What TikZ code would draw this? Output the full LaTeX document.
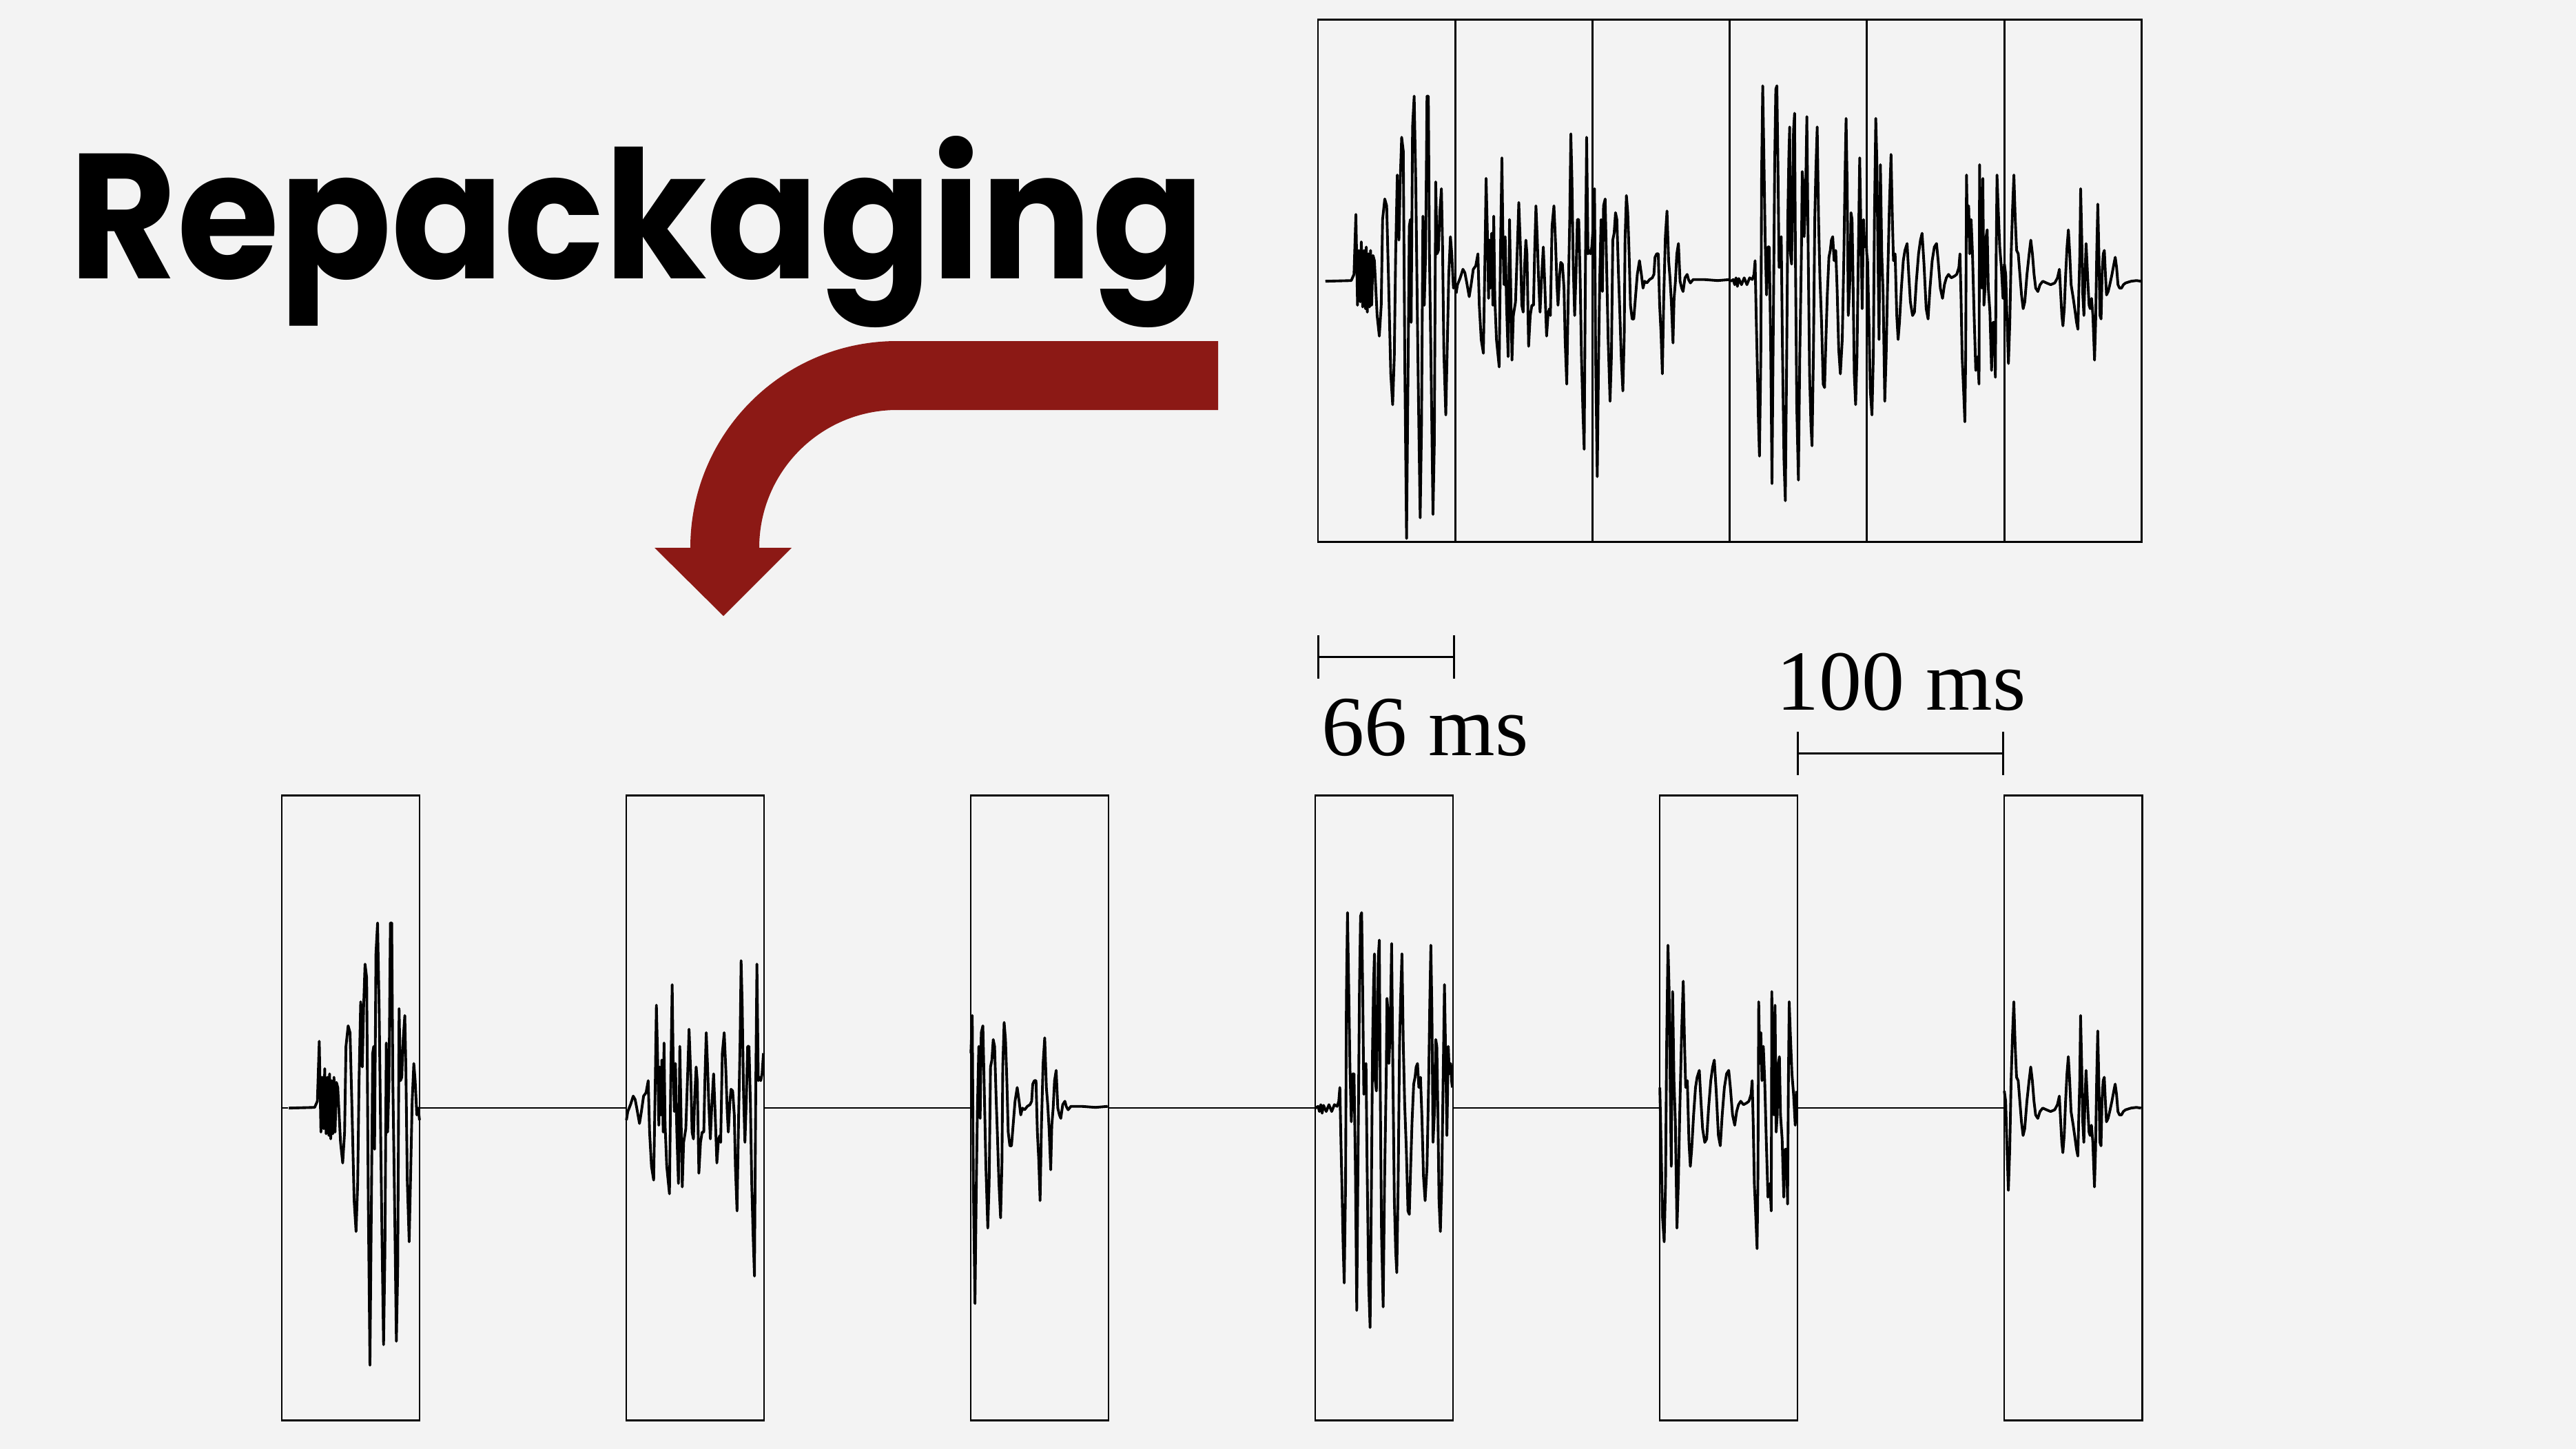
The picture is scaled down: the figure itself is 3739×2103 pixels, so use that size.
\documentclass[tikz,border=0pt]{standalone}
\usepackage{fontspec}
\newfontfamily\titlefont{Poppins}
\newfontfamily\serifnum{Liberation Serif}
\usetikzlibrary{arrows.meta}
\definecolor{bgcol}{RGB}{243,243,243}
\definecolor{arrowred}{RGB}{140,25,21}
% waveform segments, written in a local grid (x: 1/2.529 px, y: 1/2.010 px, zero line at 780)
\newcommand\wavesegA{\draw[wave] (60,780) -- (155,778) -- (165,760) -- (172,585) -- (178,850) -- (183,690) -- (188,840) -- (192,665) -- (197,855) -- (202,690) -- (207,860) -- (210,680) -- (214,870) -- (218,700) -- (222,855) -- (226,690) -- (230,850) -- (235,705) -- (240,720) -- (245,800) -- (250,880) -- (258,940) -- (265,850) -- (270,600) -- (278,540) -- (285,560) -- (292,780) -- (300,1050) -- (307,1140) -- (313,1000) -- (318,700) -- (324,470) -- (330,660) -- (335,480) -- (340,360) -- (346,400) -- (352,1060) -- (358,1530) -- (364,1000) -- (368,620) -- (372,600) -- (375,900) -- (380,330) -- (386,240) -- (392,500) -- (398,900) -- (403,1200) -- (408,1470) -- (413,1200) -- (418,590) -- (423,850) -- (428,700) -- (433,240) -- (438,240) -- (442,700) -- (448,1030) -- (455,1460) -- (460,1250) -- (465,490) -- (470,700) -- (475,690) -- (480,580) -- (486,510) -- (490,670) -- (495,990) -- (502,1170) -- (508,950) -- (513,760) -- (519,650) -- (524,700) -- (530,800) -- (535,780) -- (540,815);}
\newcommand\wavesegB{\draw[wave] (540,815) -- (545,790) -- (555,770) -- (565,745) -- (572,755) -- (578,780) -- (588,825) -- (595,790) -- (603,745) -- (612,735) -- (620,700) -- (625,850) -- (632,950) -- (640,990) -- (646,700) -- (650,480) -- (655,650) -- (659,830) -- (662,660) -- (666,800) -- (670,640) -- (675,850) -- (678,590) -- (682,830) -- (688,950) -- (698,1030) -- (703,680) -- (708,420) -- (712,670) -- (716,790) -- (720,650) -- (725,850) -- (731,1000) -- (736,600) -- (740,780) -- (745,1010) -- (750,880) -- (758,840) -- (764,700) -- (770,550) -- (776,680) -- (781,850) -- (786,870) -- (791,740) -- (796,660) -- (800,700) -- (806,970) -- (812,880) -- (818,850) -- (824,850) -- (828,700) -- (833,560) -- (838,660) -- (842,760) -- (848,870) -- (853,780) -- (860,680) -- (865,780) -- (872,940) -- (878,870) -- (883,860) -- (886,880) -- (892,620) -- (899,560) -- (905,670) -- (910,790) -- (914,850) -- (920,760) -- (924,725) -- (930,730) -- (936,800) -- (940,950) -- (946,1080) -- (952,800) -- (957,600) -- (961,350) -- (965,480) -- (970,740) -- (975,880) -- (980,760) -- (985,600) -- (990,600) -- (995,760) -- (1000,1000) -- (1005,1150) -- (1010,1270) -- (1015,700) -- (1019,360) -- (1024,700) -- (1028,690) -- (1033,700) -- (1038,680) -- (1043,620);}
\newcommand\wavesegC{\draw[wave] (1043,620) -- (1048,510) -- (1052,1000) -- (1058,1350) -- (1063,1000) -- (1067,780) -- (1072,600) -- (1077,810) -- (1081,560) -- (1087,540) -- (1093,760) -- (1098,950) -- (1105,1130) -- (1110,1000) -- (1115,660) -- (1120,640) -- (1125,580) -- (1130,600) -- (1136,760) -- (1140,850) -- (1146,1000) -- (1152,1100) -- (1157,940) -- (1160,660) -- (1165,530) -- (1170,580) -- (1175,700) -- (1180,850) -- (1186,890) -- (1192,890) -- (1198,830) -- (1205,760) -- (1213,720) -- (1220,760) -- (1226,800) -- (1232,780) -- (1240,785) -- (1250,775) -- (1260,770) -- (1266,760) -- (1270,710) -- (1276,700) -- (1282,700) -- (1287,850) -- (1292,930) -- (1297,1050) -- (1302,830) -- (1308,650) -- (1314,575) -- (1320,720) -- (1325,770) -- (1330,840) -- (1336,960) -- (1340,830) -- (1345,780) -- (1350,700) -- (1356,670) -- (1362,780) -- (1368,800) -- (1373,810) -- (1380,770) -- (1388,760) -- (1393,775) -- (1400,785) -- (1410,775) -- (1450,775) -- (1500,778) -- (1545,775);}
\newcommand\wavesegD{\draw[wave] (30,780) -- (40,775) -- (45,790) -- (50,770) -- (55,795) -- (60,772) -- (70,790) -- (80,770) -- (90,790) -- (100,770) -- (110,775) -- (116,760) -- (120,720) -- (124,880) -- (128,1020) -- (132,1180) -- (136,1290) -- (141,1000) -- (144,460) -- (148,210) -- (153,450) -- (157,660) -- (162,820) -- (167,680) -- (172,680) -- (177,950) -- (182,1370) -- (187,900) -- (192,430) -- (196,220) -- (200,210) -- (204,450) -- (208,740) -- (212,660) -- (216,650) -- (220,950) -- (226,1300) -- (231,1420) -- (236,1000) -- (240,600) -- (244,410) -- (247,330) -- (250,700) -- (254,730) -- (257,600) -- (261,340) -- (265,290) -- (268,700) -- (273,1150) -- (279,1360) -- (284,1000) -- (290,700) -- (293,460) -- (297,500) -- (300,650) -- (305,550) -- (310,300) -- (315,700) -- (320,1050) -- (325,1200) -- (329,1260) -- (334,1000) -- (339,600) -- (343,460) -- (348,330) -- (353,600) -- (358,770) -- (364,900) -- (370,1080) -- (375,1090) -- (380,950) -- (385,820) -- (391,710) -- (396,690) -- (400,660) -- (405,650) -- (410,720) -- (416,690) -- (421,800) -- (427,980) -- (433,1050) -- (440,950) -- (446,700) -- (450,480) -- (454,305) -- (458,500) -- (462,880) -- (468,780) -- (472,580) -- (476,600) -- (480,800) -- (484,1050) -- (489,1140) -- (494,1000) -- (499,700) -- (504,420) -- (508,610) -- (513,860) -- (518,600) -- (522,680) -- (527,650) -- (530,700) -- (533,720);}
\newcommand\wavesegE{\draw[wave] (533,720) -- (538,900) -- (543,1100) -- (549,1170) -- (554,1000) -- (558,600) -- (563,305) -- (567,430) -- (571,700) -- (575,950) -- (580,440) -- (585,700) -- (590,820) -- (596,1130) -- (601,1000) -- (606,800) -- (613,560) -- (619,410) -- (624,600) -- (628,720) -- (634,700) -- (640,880) -- (645,950) -- (650,900) -- (657,800) -- (664,720) -- (670,690) -- (678,670) -- (684,760) -- (690,840) -- (698,880) -- (705,870) -- (712,780) -- (720,700) -- (727,660) -- (733,640) -- (740,730) -- (748,860) -- (755,890) -- (762,800) -- (770,720) -- (778,680) -- (786,670) -- (792,720) -- (800,800) -- (808,830) -- (815,790) -- (822,770) -- (830,760) -- (840,770) -- (852,765) -- (860,760) -- (868,740) -- (872,700) -- (876,830) -- (880,1000) -- (886,1110) -- (890,1190) -- (893,1000) -- (896,470) -- (900,650) -- (904,560) -- (908,700) -- (913,600) -- (918,700) -- (924,880) -- (930,1040) -- (937,1000) -- (942,1080) -- (944,440) -- (948,700) -- (952,800) -- (956,480) -- (960,850) -- (964,800) -- (968,650) -- (972,630) -- (976,800) -- (982,870) -- (988,1040) -- (993,900) -- (998,900) -- (1002,1060) -- (1005,700) -- (1008,470) -- (1012,560) -- (1018,680) -- (1024,740) -- (1030,830) -- (1035,730);}
\newcommand\wavesegF{\draw[wave] (1035,730) -- (1040,760) -- (1045,900) -- (1050,1020) -- (1055,900) -- (1060,700) -- (1065,570) -- (1070,470) -- (1075,600) -- (1080,690) -- (1086,700) -- (1092,760) -- (1098,820) -- (1104,860) -- (1110,840) -- (1118,760) -- (1126,700) -- (1132,660) -- (1138,700) -- (1144,760) -- (1150,800) -- (1158,810) -- (1166,790) -- (1176,780) -- (1190,785) -- (1205,790) -- (1220,785) -- (1230,770) -- (1237,745) -- (1242,820) -- (1246,880) -- (1250,910) -- (1255,860) -- (1260,760) -- (1265,680) -- (1270,630) -- (1275,700) -- (1280,790) -- (1288,830) -- (1295,870) -- (1300,900) -- (1305,920) -- (1308,820) -- (1312,700) -- (1315,510) -- (1319,650) -- (1323,820) -- (1327,880) -- (1331,760) -- (1335,670) -- (1338,720) -- (1342,790) -- (1346,850) -- (1350,860) -- (1355,830) -- (1360,880) -- (1366,1010) -- (1370,900) -- (1374,700) -- (1378,555) -- (1382,700) -- (1386,880) -- (1390,890) -- (1394,750) -- (1398,700) -- (1402,690) -- (1406,760) -- (1410,820) -- (1416,810) -- (1422,790) -- (1430,760) -- (1437,730) -- (1442,710) -- (1447,740) -- (1452,790) -- (1458,800) -- (1465,800) -- (1472,790) -- (1480,785) -- (1500,780) -- (1520,778) -- (1537,780);}
\begin{document}
\begin{tikzpicture}[x=0.01cm,y=-0.01cm,
  wave/.style={line width=1.1pt, line join=round, black},
  cellbox/.style={draw, line width=0.8pt, inner sep=0pt, minimum width=1.992cm, minimum height=7.57cm},
  clipbox/.style={draw, line width=0.8pt, inner sep=0pt, minimum width=2cm, minimum height=9.06cm},
  link/.style={line width=0.8pt},
  scalebar/.style={line width=0.8pt, {Bar[width=0.62cm]}-{Bar[width=0.62cm]}},
  mslabel/.style={font=\serifnum\fontsize{35.3}{40}\selectfont, anchor=base west, inner sep=0pt},
  wavegrid/.style={x=0.0039541cm, y=-0.0049745cm}]
% background and page size
\fill[bgcol] (0,0) rectangle (3739,2103);
\useasboundingbox (0,0) rectangle (3739,2103);
% title
\node[anchor=base west, inner sep=0pt, xscale=0.93, font=\titlefont\bfseries\fontsize{73.5}{80}\selectfont] (title) at (100,404) {Repackaging};
% red bent arrow
\fill[arrowred] (1768,495) -- (1302,495) .. controls (1136.3,495) and (1002,629.3) .. (1002,795)
  -- (950,795) -- (1050,894) -- (1149,795) -- (1102,795)
  .. controls (1102,684.5) and (1191.5,595) .. (1302,595) -- (1768,595) -- cycle;
% top waveform
\begin{scope}[shift={(1900,20)}, wavegrid]
  \wavesegA \wavesegB \wavesegC
\end{scope}
\begin{scope}[shift={(2500,20)}, wavegrid]
  \wavesegD \wavesegE \wavesegF
\end{scope}
\foreach \k in {1,...,6}{
  \node[cellbox] (t\k) at ({1913+199.2*(\k-0.5)},407.5) {};
}
% bottom repackaged segments
\begin{scope}[shift={(395.4,1220)}, wavegrid] \wavesegA \end{scope}
\begin{scope}[shift={(695.7,1220)}, wavegrid] \wavesegB \end{scope}
\begin{scope}[shift={(996.8,1220)}, wavegrid] \wavesegC \end{scope}
\begin{scope}[shift={(1897.3,1220)}, wavegrid] \wavesegD \end{scope}
\begin{scope}[shift={(2198.4,1220)}, wavegrid] \wavesegE \end{scope}
\begin{scope}[shift={(2499.9,1220)}, wavegrid] \wavesegF \end{scope}
\foreach \k in {1,...,6}{
  \node[clipbox] (b\k) at ({509+500*(\k-1)},1608) {};
}
\draw[link] (b1.west) -- ++(10,0);
\foreach \a/\b in {1/2,2/3,3/4,4/5,5/6}{
  \draw[link] (b\a.east) -- (b\b.west);
}
% scale bars
\coordinate (s1a) at (1912,953.5);
\coordinate (s1b) at (2112,953.5);
\draw[scalebar] (s1a) -- (s1b);
\node[mslabel] (l66) at (1918,1096) {66 ms};
\coordinate (s2a) at (2608,1093.5);
\coordinate (s2b) at (2909,1093.5);
\draw[scalebar] (s2a) -- (s2b);
\node[mslabel] (l100) at (2578,1030) {100 ms};
\end{tikzpicture}
\end{document}
